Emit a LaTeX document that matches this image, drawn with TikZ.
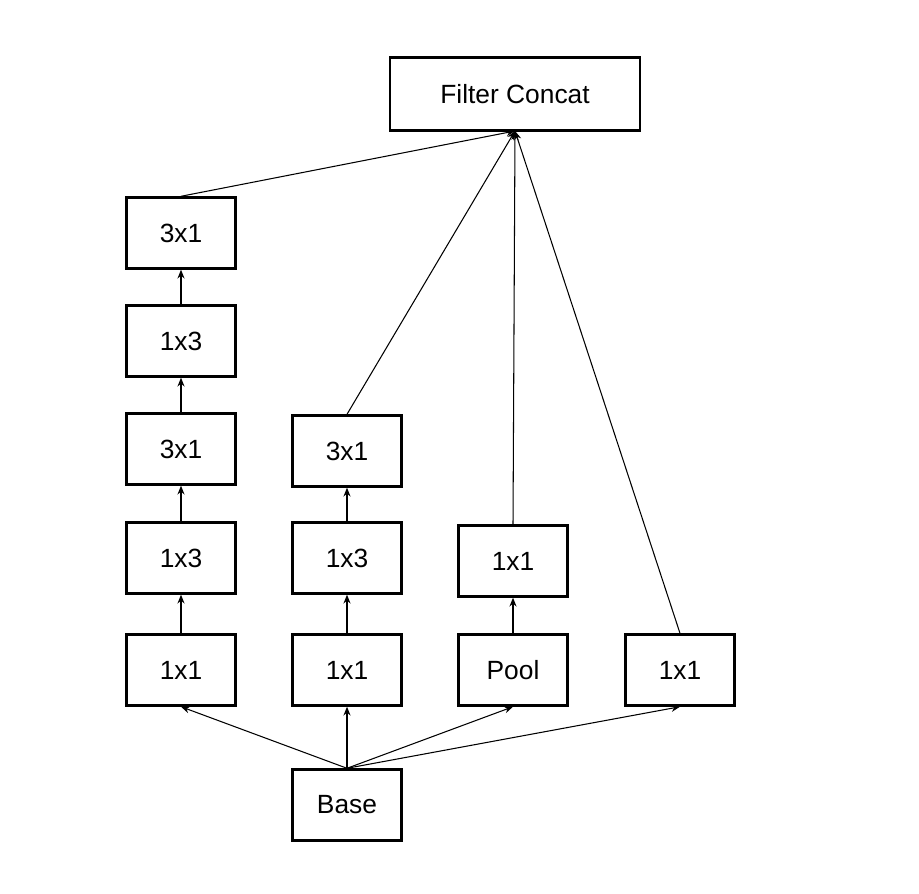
\documentclass[tikz,border=0pt]{standalone}
\usepackage{fontspec}
\setmainfont{Liberation Sans}
\usetikzlibrary{arrows.meta}
\begin{document}
\begin{tikzpicture}[x=0.02cm,y=-0.02cm,
 box/.style={draw,line width=1.4pt,minimum width=2.18cm,minimum height=1.42cm,inner sep=0pt,font=\fontsize{15}{18}\selectfont},
 ed/.style={line width=0.6pt,-{Stealth[length=5pt,width=4pt]}}]
\useasboundingbox (0,0) rectangle (919,893);
\node[box,minimum width=5cm,minimum height=1.46cm] (fc) at (515,94) {Filter Concat};
\node[box] (a5) at (181,233) {3x1};
\node[box] (a4) at (181,341) {1x3};
\node[box] (a3) at (181,449) {3x1};
\node[box] (a2) at (181,558) {1x3};
\node[box] (a1) at (181,670) {1x1};
\node[box] (b3) at (347,451) {3x1};
\node[box] (b2) at (347,558) {1x3};
\node[box] (b1) at (347,670) {1x1};
\node[box] (c2) at (513,561) {1x1};
\node[box] (c1) at (513,670) {Pool};
\node[box] (d1) at (680,670) {1x1};
\node[box] (base) at (347,805) {Base};
\coordinate (fcb) at (515,131);
\draw[ed] (a1) -- (a2);
\draw[ed] (a2) -- (a3);
\draw[ed] (a3) -- (a4);
\draw[ed] (a4) -- (a5);
\draw[ed] (b1) -- (b2);
\draw[ed] (b2) -- (b3);
\draw[ed] (c1) -- (c2);
\draw[ed] (base.north) -- (a1.south);
\draw[ed] (base.north) -- (b1.south);
\draw[ed] (base.north) -- (c1.south);
\draw[ed] (base.north) -- (d1.south);
\draw[ed] (a5.north) -- (fcb);
\draw[ed] (b3.north) -- (fcb);
\draw[ed] (c2.north) -- (fcb);
\draw[ed] (d1.north) -- (fcb);
\end{tikzpicture}
\end{document}
